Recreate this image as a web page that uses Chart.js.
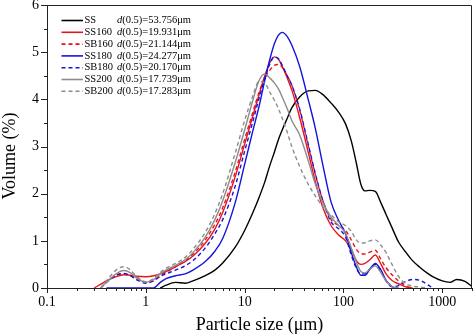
<!DOCTYPE html>
<html>
<head>
<meta charset="utf-8">
<script src="https://cdn.jsdelivr.net/npm/chart.js@4"></script>
<style>
  html, body { margin: 0; padding: 0; background: #fff; }
  #wrap { width: 474px; height: 336px; }
</style>
</head>
<body>
<div id="wrap"><canvas id="psd"></canvas></div>
<script>
// particle size grid (um), shared by every sample
const sizes = [0.3, 0.35, 0.4, 0.5, 0.6, 0.7, 0.8, 1, 1.2, 1.4, 1.6, 2, 2.5, 3,
  4, 5, 6, 8,
  10, 12, 14, 16, 18, 20, 22, 24, 27, 30,
  36, 44, 52, 62, 75, 90,
  105, 120, 135, 150, 165, 185, 210, 240, 270, 310, 360, 420, 500, 600, 700, 800,
  1000, 1200, 1400, 1700, 2000];

// volume (%) per size, null where the sample has no signal
const ss = [null, null, null, null, null, null, null, null, null, 0, 0.06, 0.12, 0.1, 0.15,
  0.26, 0.38, 0.53, 0.86,
  1.22, 1.58, 1.92, 2.25, 2.6, 2.88, 3.15, 3.35, 3.6, 3.82,
  4.05, 4.18, 4.19, 4.1, 3.92, 3.72,
  3.48, 3.12, 2.65, 2.2, 2.06, 2.07, 2.05, 1.8, 1.56, 1.28, 0.98, 0.78, 0.58, 0.43, 0.32, 0.24,
  0.15, 0.12, 0.18, 0.14, 0.03];
const ss160 = [0, 0.08, 0.15, 0.24, 0.28, 0.27, 0.25, 0.24, 0.26, 0.3, 0.35, 0.45, 0.56, 0.68,
  0.95, 1.25, 1.6, 2.35,
  3.05, 3.62, 4.1, 4.5, 4.78, 4.9, 4.85, 4.7, 4.45, 4.2,
  3.62, 2.88, 2.25, 1.7, 1.32, 1.12,
  1.0, 0.82, 0.58, 0.5, 0.52, 0.6, 0.7, 0.5, 0.3, 0.16, 0.09, 0.03, 0, null, null, null,
  null, null, null, null, null];
const sb160 = [null, 0, 0.13, 0.27, 0.3, 0.26, 0.2, 0.12, 0.15, 0.25, 0.33, 0.45, 0.58, 0.72,
  1.02, 1.35, 1.7, 2.45,
  3.15, 3.7, 4.15, 4.45, 4.62, 4.72, 4.74, 4.68, 4.5, 4.3,
  3.78, 3.02, 2.4, 1.85, 1.45, 1.32,
  1.22, 1.02, 0.82, 0.73, 0.72, 0.76, 0.8, 0.6, 0.43, 0.28, 0.15, 0.05, 0, null, null, null,
  null, null, null, null, null];
const ss180 = [null, null, 0, 0, 0, 0, 0, 0, 0, 0.12, 0.2, 0.26, 0.3, 0.38,
  0.56, 0.78, 1.05, 1.8,
  2.62, 3.3, 3.85, 4.4, 4.85, 5.18, 5.36, 5.42, 5.33, 5.15,
  4.7, 4.0, 3.38, 2.6, 1.82, 1.42,
  1.15, 0.75, 0.45, 0.27, 0.27, 0.4, 0.52, 0.38, 0.16, 0.03, 0, null, null, null, null, null,
  null, null, null, null, null];
const sb180 = [null, 0, 0.12, 0.27, 0.31, 0.26, 0.18, 0.1, 0.16, 0.25, 0.3, 0.38, 0.47, 0.58,
  0.85, 1.15, 1.45, 2.15,
  2.9, 3.5, 4.02, 4.45, 4.75, 4.9, 4.86, 4.72, 4.5, 4.3,
  3.8, 3.05, 2.42, 1.85, 1.4, 1.25,
  1.08, 0.7, 0.42, 0.3, 0.3, 0.4, 0.5, 0.35, 0.15, 0.03, 0.05, 0.13, 0.18, 0.16, 0.08, 0,
  null, null, null, null, null];
const ss200 = [null, 0, 0.12, 0.3, 0.37, 0.32, 0.22, 0.12, 0.18, 0.3, 0.38, 0.48, 0.6, 0.75,
  1.08, 1.45, 1.85, 2.65,
  3.35, 3.95, 4.4, 4.54, 4.45, 4.35, 4.22, 4.05, 3.8, 3.55,
  3.25, 2.7, 2.2, 1.8, 1.5, 1.32,
  1.16, 0.85, 0.55, 0.35, 0.32, 0.4, 0.47, 0.32, 0.15, 0.03, 0, null, null, null, null, null,
  null, null, null, null, null];
const sb200 = [null, 0, 0.15, 0.38, 0.45, 0.38, 0.25, 0.13, 0.2, 0.33, 0.42, 0.52, 0.65, 0.82,
  1.18, 1.58, 2.0, 2.85,
  3.55, 4.05, 4.38, 4.35, 4.15, 3.98, 3.8, 3.6, 3.3, 3.0,
  2.58, 2.2, 1.95, 1.72, 1.55, 1.4,
  1.32, 1.2, 1.02, 0.95, 0.96, 1.0, 1.02, 0.9, 0.75, 0.5, 0.25, 0.1, 0.04, 0.02, 0, null,
  null, null, null, null, null];

const names = ['SS', 'SS160', 'SB160', 'SS180', 'SB180', 'SS200', 'SB200'];
const medians = ['53.756', '19.931', '21.144', '24.277', '20.170', '17.739', '17.283'];
const volumes = [ss, ss160, sb160, ss180, sb180, ss200, sb200];

const RED = '#e8141c', BLUE = '#1414dc', GRAY = '#8c8c8c';
const styles = [
  { color: '#000000', dash: [] },
  { color: RED, dash: [] },
  { color: RED, dash: [4, 3] },
  { color: BLUE, dash: [] },
  { color: BLUE, dash: [4, 3] },
  { color: GRAY, dash: [] },
  { color: GRAY, dash: [4, 3] }
];

const SERIF = '"Liberation Serif", "Times New Roman", serif';

const datasets = names.map((name, i) => ({
  label: name,
  data: sizes.map((s, j) => ({ x: s, y: volumes[i][j] })).filter(p => p.y !== null),
  borderColor: styles[i].color,
  borderDash: styles[i].dash,
  borderWidth: 1.4,
  pointRadius: 0,
  fill: false,
  cubicInterpolationMode: 'monotone'
})).reverse(); // black drawn last, on top

// outward tick marks, top/right frame lines and the rotated y title
const frameTicks = {
  id: 'frameTicks',
  afterDraw(chart) {
    const { ctx, chartArea: a, scales: { x, y } } = chart;
    ctx.save();
    ctx.strokeStyle = '#222';
    ctx.lineWidth = 1;
    ctx.beginPath();
    ctx.moveTo(a.left, a.top + 0.5);
    ctx.lineTo(a.right - 0.5, a.top + 0.5);
    ctx.lineTo(a.right - 0.5, a.bottom);
    for (let e = -1; e <= 3; e++) {
      for (let m = 1; m <= 9; m++) {
        const v = m * Math.pow(10, e);
        if (v < x.min || v > x.max) continue;
        const px = Math.round(x.getPixelForValue(v)) + 0.5;
        ctx.moveTo(px, a.bottom);
        ctx.lineTo(px, a.bottom + (m === 1 ? 5 : 3));
      }
    }
    for (let v = 0; v <= 6; v += 0.5) {
      const py = Math.round(y.getPixelForValue(v)) + 0.5;
      ctx.moveTo(a.left, py);
      ctx.lineTo(a.left - (v % 1 === 0 ? 6 : 3), py);
    }
    ctx.stroke();

    ctx.translate(10, 156);
    ctx.rotate(-Math.PI / 2);
    ctx.fillStyle = '#000';
    ctx.font = '18px ' + SERIF;
    ctx.textAlign = 'center';
    ctx.textBaseline = 'middle';
    ctx.fillText('Volume (%)', 0, 0);
    ctx.restore();
  }
};

// legend box: sample line, sample name, median size with italic d
const medianLegend = {
  id: 'medianLegend',
  afterDraw(chart) {
    const ctx = chart.ctx;
    ctx.save();
    ctx.textBaseline = 'middle';
    ctx.fillStyle = '#000';
    names.forEach((name, i) => {
      const yy = 20.5 + i * 11.8;
      ctx.strokeStyle = styles[i].color;
      ctx.setLineDash(styles[i].dash);
      ctx.lineWidth = 1.6;
      ctx.beginPath();
      ctx.moveTo(61.5, yy);
      ctx.lineTo(83, yy);
      ctx.stroke();
      ctx.setLineDash([]);
      ctx.font = '10.5px ' + SERIF;
      ctx.fillText(name, 84.5, yy);
      ctx.font = 'italic 10.5px ' + SERIF;
      ctx.fillText('d', 117, yy);
      const w = ctx.measureText('d').width;
      ctx.font = '10.5px ' + SERIF;
      ctx.fillText('(0.5)=' + medians[i] + 'μm', 117 + w, yy);
    });
    ctx.restore();
  }
};

new Chart(document.getElementById('psd'), {
  type: 'line',
  data: { datasets },
  options: {
    responsive: true,
    maintainAspectRatio: false,
    animation: false,
    layout: { padding: { top: 5, right: 2, left: 0, bottom: 0 } },
    plugins: {
      legend: { display: false },
      tooltip: { enabled: false }
    },
    scales: {
      x: {
        type: 'logarithmic',
        min: 0.1,
        max: 2000,
        grid: { display: false, drawTicks: false },
        border: { display: true, color: '#222', width: 1 },
        ticks: {
          autoSkip: false,
          maxRotation: 0,
          padding: 6,
          color: '#000',
          font: { family: SERIF, size: 14 },
          callback: (v) => {
            const l = Math.log10(v);
            return Math.abs(l - Math.round(l)) < 1e-6 ? String(Number(v.toPrecision(3))) : '';
          }
        },
        title: {
          display: true,
          text: 'Particle size (μm)',
          color: '#000',
          font: { family: SERIF, size: 18 },
          padding: { top: 2, bottom: 0 }
        },
        afterFit: (s) => { s.height = 48; s.paddingLeft = 0; s.paddingRight = 0; }
      },
      y: {
        min: 0,
        max: 6,
        grid: { display: false, drawTicks: false },
        border: { display: true, color: '#222', width: 1 },
        ticks: {
          stepSize: 1,
          padding: 8,
          color: '#000',
          font: { family: SERIF, size: 14 }
        },
        afterFit: (s) => { s.width = 47; s.paddingTop = 0; s.paddingBottom = 0; }
      }
    }
  },
  plugins: [frameTicks, medianLegend]
});
</script>
</body>
</html>
